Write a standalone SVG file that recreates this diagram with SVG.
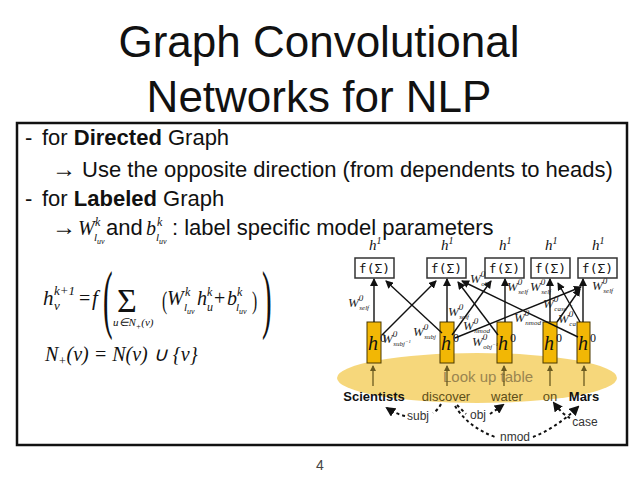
<svg xmlns="http://www.w3.org/2000/svg" width="638" height="479" viewBox="0 0 638 479">
<defs>
<marker id="ah" markerWidth="8" markerHeight="8" refX="7" refY="4" orient="auto" markerUnits="userSpaceOnUse">
<path d="M0,0 L8,4 L0,8 Z" fill="#111"/>
</marker>
<marker id="ahs" markerWidth="6" markerHeight="6" refX="5" refY="3" orient="auto" markerUnits="userSpaceOnUse">
<path d="M0,0 L6,3 L0,6 Z" fill="#6a5a20"/>
</marker>
<marker id="ahd" markerWidth="10" markerHeight="10" refX="8" refY="5" orient="auto" markerUnits="userSpaceOnUse">
<path d="M0,0 L10,5 L0,10 Z" fill="#111"/>
</marker>
<style>
.t{font-family:"Liberation Sans",Arial,sans-serif;fill:#111}
.m{font-family:"Liberation Serif","Times New Roman",serif;font-style:italic;fill:#111}
.mu{font-family:"Liberation Serif","Times New Roman",serif;fill:#111}
.fb{fill:#fff;stroke:#333;stroke-width:1.5}
.ft{font-family:"DejaVu Sans Mono","Liberation Mono",monospace;font-size:13px;fill:#111;text-anchor:middle}
.hr{fill:#F2B705;stroke:#4a3800;stroke-width:1}
.ed{stroke:#111;stroke-width:1.4;fill:none;marker-end:url(#ah)}
.up{stroke:#6a5a20;stroke-width:1.3;fill:none;marker-end:url(#ahs)}
.dep{stroke:#111;stroke-width:2;stroke-dasharray:3 3;fill:none}
.wl{font-family:"Liberation Serif","Times New Roman",serif;font-style:italic;fill:#222;font-size:13px}
.dl{font-family:"Liberation Sans",Arial,sans-serif;fill:#333;font-size:12px}
</style>
</defs>
<rect width="638" height="479" fill="#fff"/>

<g id="title">
<text class="t" x="319" y="57" font-size="44" text-anchor="middle">Graph Convolutional</text>
<text class="t" x="319" y="112" font-size="44" text-anchor="middle">Networks for NLP</text>
</g>

<g id="frame">
<rect x="17" y="123" width="610" height="322" fill="none" stroke="#111" stroke-width="2.5"/>
</g>

<g id="bullets">
<text class="t" x="25" y="145" font-size="22">-</text>
<text class="t" x="42" y="145" font-size="22">for <tspan font-weight="bold">Directed</tspan> Graph</text>
<text class="t" x="52" y="177" font-size="22"><tspan font-size="24">→</tspan> Use the opposite direction (from dependents to heads)</text>
<text class="t" x="25" y="206" font-size="22">-</text>
<text class="t" x="42" y="206" font-size="22">for <tspan font-weight="bold">Labeled</tspan> Graph</text>
<text class="t" x="52" y="235" font-size="24">→</text>
<text class="m" x="78" y="235" font-size="20">W</text>
<text class="m" x="95" y="226" font-size="12">k</text>
<text class="m" x="94" y="241" font-size="11">l<tspan font-size="8" dy="3">uv</tspan></text>
<text class="t" x="106" y="235" font-size="22">and</text>
<text class="m" x="146" y="235" font-size="20">b</text>
<text class="m" x="157" y="226" font-size="12">k</text>
<text class="m" x="156" y="241" font-size="11">l<tspan font-size="8" dy="3">uv</tspan></text>
<text class="t" x="172" y="235" font-size="22">: label specific model parameters</text>
</g>

<g id="formula">
<text class="m" x="43" y="305" font-size="21">h</text>
<text class="m" x="54" y="295" font-size="13">k<tspan class="mu">+1</tspan></text>
<text class="m" x="54" y="310" font-size="13">v</text>
<text class="mu" x="79" y="305" font-size="20">=</text>
<text class="m" x="92" y="305" font-size="21">f</text>
<text class="mu" transform="translate(103,324) scale(0.38,1)" font-size="76">(</text>
<text class="mu" x="117" y="312" font-size="34">Σ</text>
<text class="m" x="113" y="326" font-size="11">u<tspan class="mu">∈</tspan>N<tspan font-size="8" dy="3" class="mu">+</tspan><tspan dy="-3">(v)</tspan></text>
<text class="mu" transform="translate(162,309) scale(0.6,1)" font-size="26">(</text>
<text class="m" x="167" y="305" font-size="20">W</text>
<text class="m" x="185" y="296" font-size="12">k</text>
<text class="m" x="184" y="311" font-size="11">l<tspan font-size="8" dy="3">uv</tspan></text>
<text class="m" x="197" y="305" font-size="20">h</text>
<text class="m" x="207" y="296" font-size="12">k</text>
<text class="m" x="207" y="311" font-size="12">u</text>
<text class="mu" x="214" y="305" font-size="20">+</text>
<text class="m" x="227" y="305" font-size="20">b</text>
<text class="m" x="237" y="296" font-size="12">k</text>
<text class="m" x="236" y="311" font-size="11">l<tspan font-size="8" dy="3">uv</tspan></text>
<text class="mu" transform="translate(252,309) scale(0.6,1)" font-size="26">)</text>
<text class="mu" transform="translate(262,324) scale(0.38,1)" font-size="76">)</text>
<text class="m" x="45" y="361" font-size="20">N<tspan class="mu" font-size="12" dy="4">+</tspan><tspan class="mu" dy="-4">(</tspan>v<tspan class="mu">) = </tspan>N<tspan class="mu">(</tspan>v<tspan class="mu">) ∪ {</tspan>v<tspan class="mu">}</tspan></text>
</g>

<g id="lookup">
<ellipse cx="477" cy="378" rx="140" ry="25" fill="#F3C94F" fill-opacity="0.75"/>
<text class="t" x="443" y="382" font-size="15" style="fill:#9a8550">Look up table</text>
</g>

<g id="words">
<text class="t" x="374" y="401" font-size="13" font-weight="bold" text-anchor="middle">Scientists</text>
<text class="t" x="446" y="401" font-size="13" text-anchor="middle" style="fill:#5e4f18">discover</text>
<text class="t" x="507" y="401" font-size="13" text-anchor="middle" style="fill:#5e4f18">water</text>
<text class="t" x="550" y="401" font-size="13" text-anchor="middle" style="fill:#5e4f18">on</text>
<text class="t" x="584" y="401" font-size="13" font-weight="bold" text-anchor="middle">Mars</text>
</g>

<g id="n-scientists">
<rect class="hr" x="367" y="322" width="14" height="41"/>
<text class="m" x="368" y="350" font-size="20">h</text>
<text class="mu" x="380" y="342" font-size="12">0</text>
<rect class="fb" x="355" y="258" width="39" height="20"/>
<text class="ft" x="374.5" y="273">f(Σ)</text>
<text class="m" x="369" y="250" font-size="15">h<tspan class="mu" font-size="10" dy="-6">1</tspan></text>
</g>
<g id="n-discover">
<rect class="hr" x="440" y="322" width="14" height="41"/>
<text class="m" x="441" y="350" font-size="20">h</text>
<text class="mu" x="453" y="342" font-size="12">0</text>
<rect class="fb" x="427" y="258" width="39" height="20"/>
<text class="ft" x="446.5" y="273">f(Σ)</text>
<text class="m" x="441" y="250" font-size="15">h<tspan class="mu" font-size="10" dy="-6">1</tspan></text>
</g>
<g id="n-water">
<rect class="hr" x="497" y="322" width="15" height="41"/>
<text class="m" x="498" y="350" font-size="20">h</text>
<text class="mu" x="510" y="342" font-size="12">0</text>
<rect class="fb" x="485" y="258" width="39" height="20"/>
<text class="ft" x="504.5" y="273">f(Σ)</text>
<text class="m" x="499" y="250" font-size="15">h<tspan class="mu" font-size="10" dy="-6">1</tspan></text>
</g>
<g id="n-on">
<rect class="hr" x="543" y="322" width="14" height="41"/>
<text class="m" x="544" y="350" font-size="20">h</text>
<text class="mu" x="556" y="342" font-size="12">0</text>
<rect class="fb" x="531" y="258" width="39" height="20"/>
<text class="ft" x="550.5" y="273">f(Σ)</text>
<text class="m" x="545" y="250" font-size="15">h<tspan class="mu" font-size="10" dy="-6">1</tspan></text>
</g>
<g id="n-mars">
<rect class="hr" x="577" y="322" width="13" height="41"/>
<text class="m" x="578" y="350" font-size="20">h</text>
<text class="mu" x="590" y="342" font-size="12">0</text>
<rect class="fb" x="578" y="258" width="39" height="20"/>
<text class="ft" x="597.5" y="273">f(Σ)</text>
<text class="m" x="592" y="250" font-size="15">h<tspan class="mu" font-size="10" dy="-6">1</tspan></text>
</g>

<g id="connectors">
<line class="ed" x1="374" y1="322" x2="374" y2="279"/>
<line class="ed" x1="447" y1="322" x2="447" y2="279"/>
<line class="ed" x1="505" y1="322" x2="505" y2="279"/>
<line class="ed" x1="550" y1="322" x2="550" y2="279"/>
<line class="ed" x1="583" y1="322" x2="583" y2="279"/>
<line class="ed" x1="382" y1="335" x2="436" y2="281"/>
<line class="ed" x1="442" y1="333" x2="386" y2="281"/>
<line class="ed" x1="452" y1="335" x2="491" y2="281"/>
<line class="ed" x1="498" y1="335" x2="458" y2="282"/>
<line class="ed" x1="455" y1="338" x2="581" y2="287"/>
<line class="ed" x1="578" y1="337" x2="462" y2="281"/>
<line class="ed" x1="557" y1="322" x2="580" y2="289"/>
<line class="ed" x1="580" y1="322" x2="558" y2="283"/>
<line class="up" x1="373" y1="386" x2="373" y2="366"/>
<line class="up" x1="447" y1="386" x2="447" y2="366"/>
<line class="up" x1="504" y1="386" x2="504" y2="366"/>
<line class="up" x1="550" y1="386" x2="550" y2="366"/>
<line class="up" x1="584" y1="386" x2="584" y2="366"/>
<path class="dep" d="M441,404 Q438,410 433,413"/>
<path class="dep" d="M405,416 Q396,414 387,408" marker-end="url(#ahd)"/>
<path class="dep" d="M457,405 L466,414"/>
<path class="dep" d="M490,414 L503,405" marker-end="url(#ahd)"/>
<path class="dep" d="M455,406 Q468,427 495,437"/>
<path class="dep" d="M533,437 Q556,428 578,407" marker-end="url(#ahd)"/>
<path class="dep" d="M570,418 Q562,414 554,403" marker-end="url(#ahd)"/>
</g>

<g id="edge-labels">
<text class="wl" x="348" y="307">W<tspan font-size="9" dy="-6">0</tspan><tspan font-size="7" dx="-4" dy="9">self</tspan></text>
<text class="wl" x="448" y="316">W<tspan font-size="9" dy="-6">0</tspan><tspan font-size="7" dx="-4" dy="9">self</tspan></text>
<text class="wl" x="470" y="283">W<tspan font-size="9" dy="-6">0</tspan><tspan font-size="7" dx="-4" dy="9">obj</tspan></text>
<text class="wl" x="507" y="291">W<tspan font-size="9" dy="-6">0</tspan><tspan font-size="7" dx="-4" dy="9">self</tspan></text>
<text class="wl" x="530" y="291">W<tspan font-size="9" dy="-6">0</tspan><tspan font-size="7" dx="-4" dy="9">self</tspan></text>
<text class="wl" x="592" y="290">W<tspan font-size="9" dy="-6">0</tspan><tspan font-size="7" dx="-4" dy="9">self</tspan></text>
<text class="wl" x="543" y="308">W<tspan font-size="9" dy="-6">0</tspan><tspan font-size="7" dx="-4" dy="9">case<tspan font-size="5" dy="-3">−1</tspan></tspan></text>
<text class="wl" x="558" y="323">W<tspan font-size="9" dy="-6">0</tspan><tspan font-size="7" dx="-4" dy="9">ca</tspan></text>
<text class="wl" x="514" y="322">W<tspan font-size="9" dy="-6">0</tspan><tspan font-size="7" dx="-4" dy="9">nmod</tspan></text>
<text class="wl" x="463" y="330">W<tspan font-size="9" dy="-6">0</tspan><tspan font-size="7" dx="-4" dy="9">nmod</tspan></text>
<text class="wl" x="472" y="346">W<tspan font-size="9" dy="-6">0</tspan><tspan font-size="7" dx="-4" dy="9">obj<tspan font-size="5" dy="-3">−1</tspan></tspan></text>
<text class="wl" x="413" y="336">W<tspan font-size="9" dy="-6">0</tspan><tspan font-size="7" dx="-4" dy="9">subj</tspan></text>
<text class="wl" x="382" y="343">W<tspan font-size="9" dy="-6">0</tspan><tspan font-size="7" dx="-4" dy="9">subj<tspan font-size="5" dy="-3">−1</tspan></tspan></text>
<text class="dl" x="418" y="420" text-anchor="middle">subj</text>
<text class="dl" x="478" y="419" text-anchor="middle">obj</text>
<text class="dl" x="515" y="441" text-anchor="middle">nmod</text>
<text class="dl" x="585" y="426" text-anchor="middle">case</text>
</g>

<g id="page">
<text class="t" x="320" y="470" font-size="14" text-anchor="middle" style="fill:#444">4</text>
</g>
</svg>
